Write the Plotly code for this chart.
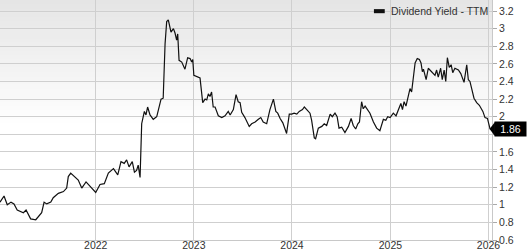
import plotly.graph_objects as go

dates = [
    "2021-01-10", "2021-01-25", "2021-02-06", "2021-02-20", "2021-03-03", "2021-03-15",
    "2021-04-07", "2021-04-17", "2021-05-04", "2021-05-23", "2021-06-14", "2021-06-23",
    "2021-07-03", "2021-07-18", "2021-07-27", "2021-08-15", "2021-09-03", "2021-09-15",
    "2021-09-21", "2021-09-30", "2021-10-28", "2021-11-10", "2021-11-26", "2022-01-01",
    "2022-01-17", "2022-02-02", "2022-02-17", "2022-03-08", "2022-03-24", "2022-04-05",
    "2022-04-17", "2022-04-26", "2022-05-05", "2022-05-17", "2022-05-25", "2022-06-02",
    "2022-06-08", "2022-06-15", "2022-06-21", "2022-07-01", "2022-07-07", "2022-07-13",
    "2022-07-22", "2022-08-03", "2022-08-16", "2022-08-22", "2022-09-01", "2022-09-09",
    "2022-09-16", "2022-09-22", "2022-09-28", "2022-10-08", "2022-10-17", "2022-10-23",
    "2022-10-29", "2022-11-02", "2022-11-07", "2022-11-17", "2022-11-29", "2022-12-09",
    "2022-12-18", "2022-12-24", "2022-12-28", "2023-01-01", "2023-01-18", "2023-01-24",
    "2023-02-03", "2023-02-12", "2023-02-18", "2023-02-24", "2023-03-02", "2023-03-08",
    "2023-03-14", "2023-03-21", "2023-04-02", "2023-04-15", "2023-04-27", "2023-05-09",
    "2023-05-16", "2023-05-28", "2023-06-07", "2023-06-15", "2023-06-22", "2023-06-28",
    "2023-07-10", "2023-07-26", "2023-08-04", "2023-08-17", "2023-08-29", "2023-09-07",
    "2023-09-16", "2023-09-29", "2023-10-11", "2023-10-24", "2023-11-02", "2023-11-09",
    "2023-11-18", "2023-11-28", "2023-12-12", "2023-12-22", "2023-12-31", "2024-01-09",
    "2024-01-19", "2024-01-28", "2024-02-09", "2024-02-16", "2024-02-25", "2024-03-08",
    "2024-03-14", "2024-03-24", "2024-03-29", "2024-04-08", "2024-04-21", "2024-04-30",
    "2024-05-09", "2024-05-22", "2024-05-30", "2024-06-09", "2024-06-17", "2024-06-24",
    "2024-07-04", "2024-07-16", "2024-07-29", "2024-08-08", "2024-08-16", "2024-08-25",
    "2024-09-02", "2024-09-08", "2024-09-16", "2024-09-22", "2024-09-29", "2024-10-09",
    "2024-10-17", "2024-10-30", "2024-11-11", "2024-11-23", "2024-12-06", "2024-12-15",
    "2024-12-22", "2024-12-31", "2025-01-12", "2025-01-22", "2025-01-31", "2025-02-09",
    "2025-02-15", "2025-02-21", "2025-02-28", "2025-03-09", "2025-03-15", "2025-03-21",
    "2025-03-27", "2025-04-03", "2025-04-11", "2025-04-19", "2025-04-25", "2025-04-30",
    "2025-05-04", "2025-05-14", "2025-05-22", "2025-06-04", "2025-06-16", "2025-06-22",
    "2025-06-28", "2025-07-07", "2025-07-13", "2025-07-20", "2025-07-26", "2025-08-01",
    "2025-08-08", "2025-08-15", "2025-08-21", "2025-08-29", "2025-09-11", "2025-09-20",
    "2025-10-02", "2025-10-12", "2025-10-18", "2025-10-24", "2025-10-31", "2025-11-08",
    "2025-11-18", "2025-11-28", "2025-12-11", "2025-12-19", "2025-12-28", "2026-01-07",
]

dividend_yield = [
    1.03, 1.10, 1.00, 1.03, 1.01, 0.94,
    0.91, 0.94, 0.84, 0.83, 0.91, 1.03,
    1.01, 1.03, 1.08, 1.13, 1.15, 1.19,
    1.32, 1.36, 1.28, 1.19, 1.26, 1.14,
    1.23, 1.24, 1.36, 1.41, 1.34, 1.49,
    1.47, 1.51, 1.43, 1.49, 1.37, 1.39,
    1.45, 1.31, 1.92, 2.06, 2.02, 2.11,
    2.02, 1.97, 2.00, 2.08, 2.20, 2.21,
    2.83, 3.08, 3.10, 2.96, 3.00, 2.95,
    2.87, 2.94, 2.64, 2.62, 2.54, 2.67,
    2.66, 2.62, 2.65, 2.47, 2.45, 2.44,
    2.16, 2.20, 2.19, 2.26, 2.23, 2.28,
    2.11, 2.11, 2.01, 1.99, 2.01, 2.06,
    2.02, 2.08, 2.25, 2.17, 2.16, 2.05,
    1.99, 1.89, 1.92, 1.94, 1.97, 1.99,
    1.94, 1.92, 2.08, 2.20, 2.06, 2.04,
    1.98, 1.93, 1.81, 2.03, 2.03, 2.04,
    2.03, 2.06, 2.08, 2.11, 2.08, 2.04,
    1.96, 1.76, 1.75, 1.87, 1.89, 1.92,
    1.90, 2.03, 2.00, 2.04, 2.00, 1.87,
    1.88, 1.82, 1.89, 1.98, 1.90, 1.86,
    1.92, 1.94, 2.17, 2.09, 2.12, 2.08,
    2.04, 1.94, 1.87, 1.84, 1.97, 1.96,
    2.00, 1.99, 2.04, 2.01, 2.07, 2.15,
    2.08, 2.17, 2.12, 2.23, 2.32, 2.28,
    2.41, 2.61, 2.66, 2.65, 2.61, 2.51,
    2.54, 2.42, 2.55, 2.51, 2.47, 2.53,
    2.45, 2.55, 2.42, 2.53, 2.40, 2.67,
    2.56, 2.59, 2.50, 2.55, 2.53, 2.49,
    2.39, 2.59, 2.42, 2.40, 2.30, 2.21,
    2.16, 2.13, 2.06, 1.99, 1.98, 1.86,
]

series_name = "Dividend Yield - TTM"
x_range = ["2021-01-10", "2026-01-14"]
y_range = [0.6, 3.325]
# y ticks; the 1.8 label sits under the last-value marker in the reference
y_tickvals = [0.6, 0.8, 1.0, 1.2, 1.4, 1.6, 1.8, 2.0, 2.2, 2.4, 2.6, 2.8, 3.0, 3.2]
y_ticktext = ["0.6", "0.8", "1", "1.2", "1.4", "1.6", "", "2", "2.2", "2.4", "2.6", "2.8", "3", "3.2"]

FONT = "Liberation Sans, Arial, sans-serif"

fig = go.Figure()
fig.add_trace(go.Scatter(
    x=dates, y=dividend_yield, mode="lines",
    line=dict(color="#111111", width=1.2),
    showlegend=False, hoverinfo="x+y",
))

shapes = []
# gradient background (light gray at top fading to white)
n_bands = 30
g_lo, g_hi = 0.47, 1.0
for i in range(n_bands):
    t = (i + 0.5) / n_bands
    c = int(round(255 - (255 - 229) * t))
    shapes.append(dict(
        type="rect", xref="paper", yref="paper", layer="below",
        x0=0, x1=1,
        y0=g_lo + (g_hi - g_lo) * i / n_bands,
        y1=g_lo + (g_hi - g_lo) * (i + 1) / n_bands + 0.002,
        fillcolor=f"rgb({c},{c},{c})", line=dict(width=0),
    ))

# legend marker
shapes.append(dict(
    type="rect", xref="paper", yref="paper",
    x0=0.760, x1=0.782, y0=0.945, y1=0.962,
    fillcolor="#111111", line=dict(width=0),
))

# last value pointer
last = dividend_yield[-1]
yp = (last - y_range[0]) / (y_range[1] - y_range[0])
h = 7 / 240
shapes.append(dict(
    type="path", xref="paper", yref="paper",
    path=f"M 0.995 {yp} L 1.006 {yp + h} L 1.006 {yp - h} Z",
    fillcolor="#000000", line=dict(width=0),
))

annotations = [
    dict(text=series_name, xref="paper", yref="paper", x=0.790, y=0.954,
         xanchor="left", yanchor="middle", showarrow=False,
         font=dict(family=FONT, size=10.5, color="#333333")),
    dict(text=f"{last:.2f}", xref="paper", yref="paper", x=1.005, y=yp,
         xanchor="left", yanchor="middle", showarrow=False,
         bgcolor="#000000", width=31, height=14, borderpad=0,
         font=dict(family=FONT, size=10.5, color="#ffffff")),
]

fig.update_layout(
    width=527, height=250,
    margin=dict(l=0, r=35, t=0, b=10, autoexpand=False),
    paper_bgcolor="#ffffff", plot_bgcolor="#ffffff",
    font=dict(family=FONT, size=10.5, color="#333333"),
    shapes=shapes, annotations=annotations,
    showlegend=False,
    xaxis=dict(
        range=x_range, type="date", dtick="M12", tick0="2022-01-01",
        tickformat="%Y", showgrid=True, gridcolor="#cfcfcf", gridwidth=1,
        showline=True, linecolor="#c8c8c8", mirror=True, ticks="",
        ticklabelstandoff=-5,
        zeroline=False, automargin=False,
        tickfont=dict(family=FONT, size=10.5, color="#333333"),
    ),
    yaxis=dict(
        range=y_range, side="right", tickmode="array",
        tickvals=y_tickvals, ticktext=y_ticktext,
        showgrid=True, gridcolor="#cfcfcf", gridwidth=1,
        showline=True, linecolor="#c8c8c8", mirror=True,
        ticks="outside", ticklen=4, tickcolor="#aaaaaa",
        zeroline=False, automargin=False,
        tickfont=dict(family=FONT, size=10.5, color="#333333"),
    ),
)

fig.write_html("out.html")
